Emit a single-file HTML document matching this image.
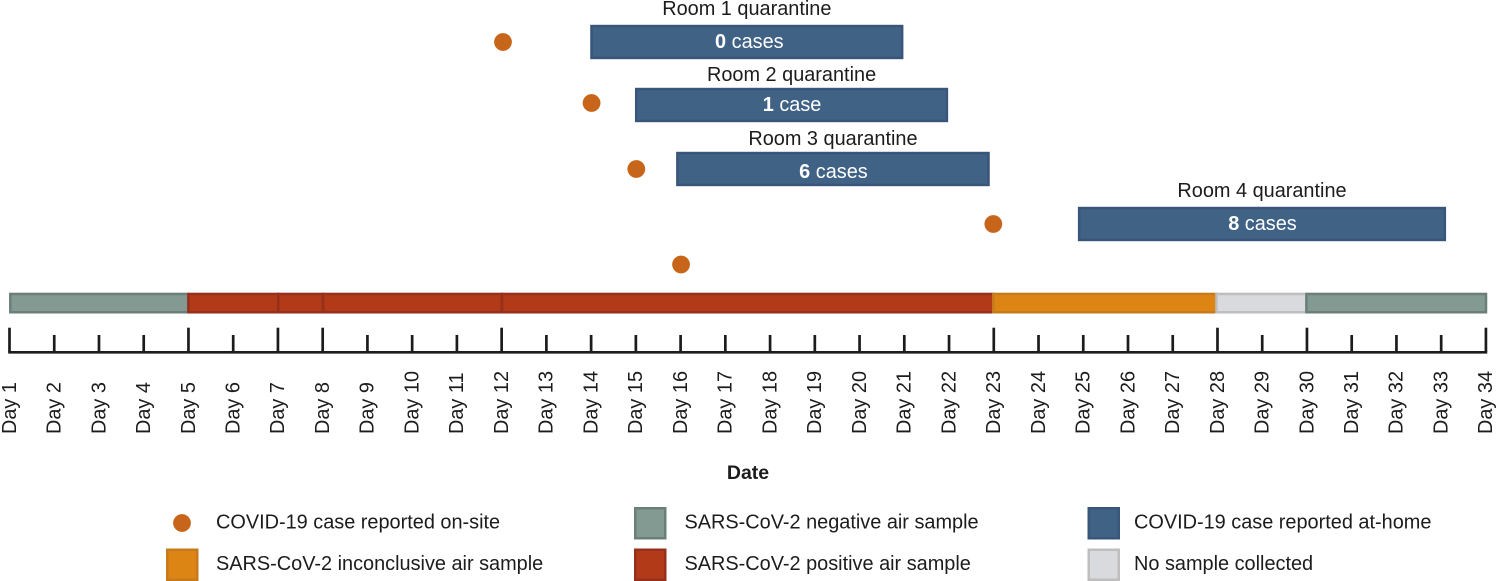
<!DOCTYPE html>
<html lang="en">
<head>
<meta charset="utf-8">
<title>Air samples and COVID-19 cases timeline</title>
<style>
html,body{margin:0;padding:0;background:#fff;width:1496px;height:581px;overflow:hidden}
svg{display:block}
text{font-family:"Liberation Sans",Arial,sans-serif;font-size:19.9px;fill:#1c1c1c}
</style>
</head>
<body>
<svg id="chart" width="1496" height="581" viewBox="0 0 1496 581" xmlns="http://www.w3.org/2000/svg">
  <g id="rooms"></g>
  <g id="points"></g>
  <g id="strip"></g>
  <g id="axis"></g>
  <text x="748" y="479" text-anchor="middle" font-weight="700" style="font-size:19.5px">Date</text>
  <g id="legend"></g>
</svg>
<script>
const dayNumbers = [1,2,3,4,5,6,7,8,9,10,11,12,13,14,15,16,17,18,19,20,21,22,23,24,25,26,27,28,29,30,31,32,33,34];
const majorDays = [1,5,7,8,12,23,28,30,34];

const roomNames = ['Room 1 quarantine','Room 2 quarantine','Room 3 quarantine','Room 4 quarantine'];
const roomStart = [13.98,14.98,15.9,24.88];
const roomEnd = [20.98,21.98,22.91,33.11];
const roomLevel = [22.2,15.9,9.5,4.0];
const roomLabelLevel = [24.9,18.3,11.9,6.7];
const roomCountLevel = [22.2,15.9,9.2,4.0];
const roomCases = [0,1,6,8];

const caseDays = [12.03,14.01,15.01,22.99,16.01];
const caseLevel = [22.2,16.1,9.5,4.0,-0.05];

const sampleStart = [0.99,4.97,6.98,7.98,11.98,22.96,27.95,29.96];
const sampleEnd = [4.97,6.98,7.98,11.98,22.96,27.95,29.96,34.03];
const sampleKind = ['negative','positive','positive','positive','positive','inconclusive','none','negative'];

const kindFill = {negative:'#839a93',positive:'#b23a18',inconclusive:'#dc8515',none:'#d8dadd',home:'#3f6285'};
const kindStroke = {negative:'#6b7f7a',positive:'#962f1c',inconclusive:'#c67a1c',none:'#bfbdbd',home:'#39567a'};

const legendLabels = ['COVID-19 case reported on-site','SARS-CoV-2 inconclusive air sample','SARS-CoV-2 negative air sample','SARS-CoV-2 positive air sample','COVID-19 case reported at-home','No sample collected'];
const legendKinds = ['point','inconclusive','negative','positive','home','none'];

const NS = 'http://www.w3.org/2000/svg';
const x = d => 9.5 + (d - 1) * 44.74;
const y = level => 264 - level * 10;

function make(tag, parent, attrs) {
  const el = document.createElementNS(NS, tag);
  for (const k in attrs) el.setAttribute(k, attrs[k]);
  parent.appendChild(el);
  return el;
}
function insetRect(parent, x0, x1, y0, y1, kind) {
  const r = make('rect', parent, {x: x0 + 1.25, y: y0 + 1.25, width: x1 - x0 - 2.5, height: y1 - y0 - 2.5, fill: kindFill[kind], stroke: kindStroke[kind], 'stroke-width': 2.5});
  return r;
}

/* Room quarantine bars */
const roomsG = document.getElementById('rooms');
roomNames.forEach((name, i) => {
  const x0 = x(roomStart[i]), x1 = x(roomEnd[i]), cy = y(roomLevel[i]);
  const cx = (x0 + x1) / 2;
  const bar = insetRect(roomsG, x0, x1, cy - 17.2, cy + 17.2, 'home');
  
  
  const label = make('text', roomsG, {x: cx, y: y(roomLabelLevel[i]), 'text-anchor': 'middle'});
  label.textContent = name;
  
  
  const count = make('text', roomsG, {x: cx + (i === 0 ? 2.5 : 0.5), y: y(roomCountLevel[i]) + 6, 'text-anchor': 'middle', style: 'fill:#fff'});
  
  
  const n = make('tspan', count, {'font-weight': 700, style: 'fill:#fff'});
  n.textContent = roomCases[i];
  const w = make('tspan', count, {style: 'fill:#fff'});
  w.textContent = roomCases[i] === 1 ? ' case' : ' cases';
});

/* On-site cases */
const pointsG = document.getElementById('points');
caseDays.forEach((d, i) => {
  const c = make('circle', pointsG, {cx: x(d), cy: y(caseLevel[i]), r: 8.9, fill: '#c7661a'});
  
  
});

/* Air-sample strip: each segment's left border covers the previous segment's right end */
const stripG = document.getElementById('strip');
sampleKind.forEach((kind, i) => {
  const last = i === sampleKind.length - 1;
  const x0 = x(sampleStart[i]);
  const x1 = x(sampleEnd[i]);
  const s = make('rect', stripG, {x: x0 + 1.25, y: 293.95, width: x1 - x0 - (last ? 2.5 : 0), height: 18.3, fill: kindFill[kind], stroke: kindStroke[kind], 'stroke-width': 2.5});
  
  
});

/* Axis */
const axisG = document.getElementById('axis');
const baseline = make('line', axisG, {x1: x(1) - 1.3, x2: x(34) + 1.3, y1: 352.3, y2: 352.3, stroke: '#1c1c1c', 'stroke-width': 2.7});


dayNumbers.forEach(d => {
  const px = x(d);
  const tick = make('line', axisG, {x1: px, x2: px, y1: majorDays.includes(d) ? 327.7 : 335, y2: 352.3, stroke: '#1c1c1c', 'stroke-width': 2.7});
  
  
  const t = make('text', axisG, {transform: 'translate(' + (px + 6.3) + ',434) rotate(-90)'});
  t.textContent = 'Day ' + d;
  
  
});

/* Legend */
const legendG = document.getElementById('legend');
const legendColumnX = [166, 634, 1087.5];
const legendTextX = [216, 684.5, 1134];
legendLabels.forEach((label, i) => {
  const col = Math.floor(i / 2), row = i % 2;
  const top = row === 0 ? 507 : 548.5;
  const kind = legendKinds[i];
  let mark;
  if (kind === 'point') {
    mark = make('circle', legendG, {cx: 182, cy: 523, r: 8.9, fill: '#c7661a'});
  } else {
    mark = insetRect(legendG, legendColumnX[col], legendColumnX[col] + 32.5, top, top + 32.5, kind);
  }
  
  
  const t = make('text', legendG, {x: legendTextX[col], y: row === 0 ? 528.5 : 570});
  t.textContent = label;
  
  
});
</script>
</body>
</html>
